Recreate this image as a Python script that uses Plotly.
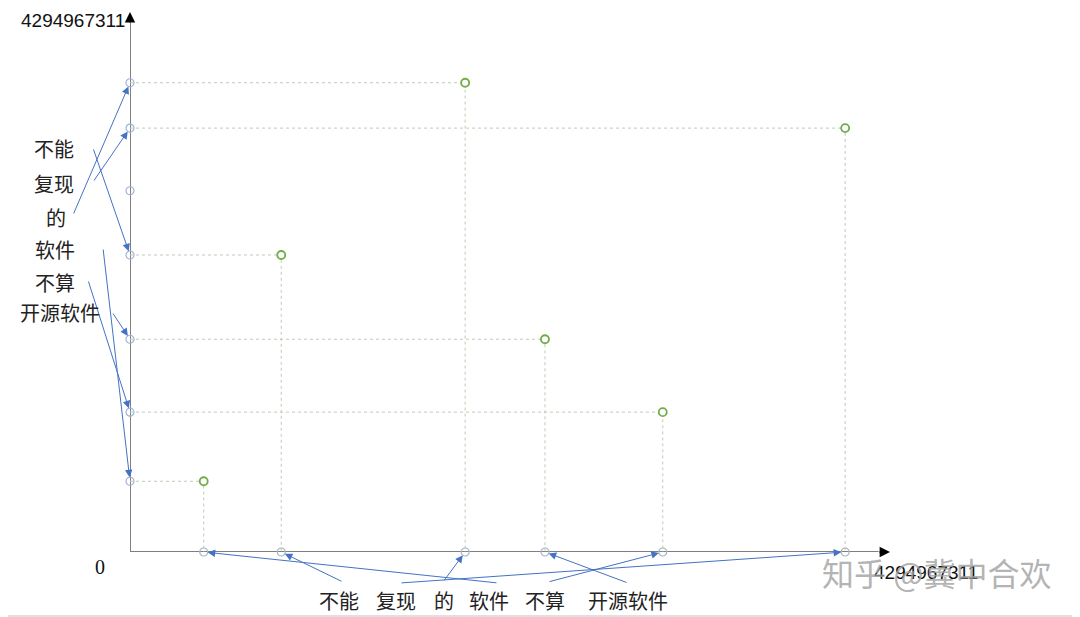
import plotly.graph_objects as go

# values are read as percent of the axis range (0 .. 4294967311)
X_PTS = [9.7, 19.9, 44.1, 54.6, 70.1, 94.1]
Y_PTS = [13.1, 55.0, 86.9, 39.4, 25.9, 78.5]
Y_EXTRA_TICK = [66.9]
AXIS_MIN_LABEL = '0'
AXIS_MAX_LABEL = '4294967311'
WORDS = ['不能', '复现', '的', '软件', '不算', '开源软件']
LEFT_ARROW_TO = [2, 5, 1, 3, 4, 0]      # index into Y_PTS
BOTTOM_ARROW_TO = [0, 1, 2, 3, 4, 5]    # index into X_PTS
WATERMARK = '知乎 @冀中合欢'

# plot area in screen pixels (page body adds an 8px margin)
L, R, T, B = 130, 890, 12, 552
PAGE_OFFSET = 8


def dx(p):
    return (p - L) / (R - L) * 100


def dy(p):
    return (B - p) / (B - T) * 100


def px(p):
    return (p - L) / (R - L)


def py(p):
    return (B - p) / (B - T)


CJK = 'Noto Sans CJK SC'
BLUE = '#4472C4'
GREEN = '#70AD47'
DASH = '#BFCDB2'

fig = go.Figure()

# dotted guide lines from each point to both axes
gx, gy = [], []
for x, y in zip(X_PTS, Y_PTS):
    gx += [0, x, x, None]
    gy += [y, y, 0, None]
fig.add_trace(go.Scatter(x=gx, y=gy, mode='lines', line=dict(color=DASH, width=1, dash='dot'),
                         hoverinfo='skip', cliponaxis=False))

# hollow ticks on the axes
fig.add_trace(go.Scatter(x=[0] * (len(Y_PTS) + len(Y_EXTRA_TICK)), y=Y_PTS + Y_EXTRA_TICK, mode='markers',
                         marker=dict(symbol='circle-open', size=8, color='#9FB3D8', line=dict(width=1.2)),
                         cliponaxis=False))
fig.add_trace(go.Scatter(x=X_PTS, y=[0] * len(X_PTS), mode='markers',
                         marker=dict(symbol='circle-open', size=8, color='#A9B4C4', line=dict(width=1.2)),
                         cliponaxis=False))

# the points themselves
fig.add_trace(go.Scatter(x=X_PTS, y=Y_PTS, mode='markers',
                         marker=dict(symbol='circle', size=8, color='white', line=dict(color=GREEN, width=1.8)),
                         cliponaxis=False))

annotations = []

# axis arrow heads
annotations.append(dict(x=100, y=0, xref='x', yref='y', ax=-12, ay=0, text='', showarrow=True,
                        arrowhead=2, arrowsize=1.3, arrowwidth=1.6, arrowcolor='black'))
annotations.append(dict(x=0, y=100, xref='x', yref='y', ax=0, ay=12, text='', showarrow=True,
                        arrowhead=2, arrowsize=1.3, arrowwidth=1.6, arrowcolor='black'))

# left side arrows: word column -> y ticks
left_tails = [(73, 215), (93, 182), (93, 148), (112, 312), (88, 280), (103, 248)]
for (tx, ty), i in zip(left_tails, LEFT_ARROW_TO):
    annotations.append(dict(x=0, y=Y_PTS[i], xref='x', yref='y', ax=dx(tx), ay=dy(ty), axref='x', ayref='y',
                            text='', showarrow=True, arrowhead=2, arrowsize=1.5, arrowwidth=1,
                            arrowcolor=BLUE, standoff=4))

# bottom arrows: word row -> x ticks
bottom_tails = [(498, 583), (343, 582), (443, 582), (628, 583), (548, 582), (400, 583)]
for (tx, ty), i in zip(bottom_tails, BOTTOM_ARROW_TO):
    annotations.append(dict(x=X_PTS[i], y=0, xref='x', yref='y', ax=dx(tx), ay=dy(ty), axref='x', ayref='y',
                            text='', showarrow=True, arrowhead=2, arrowsize=1.5, arrowwidth=1,
                            arrowcolor=BLUE, standoff=4))


def label(text, sx, sy, size, family, color='#222', xanchor='center'):
    return dict(x=px(sx), y=py(sy), xref='paper', yref='paper', text=text, showarrow=False,
                xanchor=xanchor, yanchor='middle', font=dict(family=family, size=size, color=color))


# word labels
left_pos = [(54, 149), (54, 183), (56, 217), (55, 249), (55, 282), (60, 313)]
for w, (sx, sy) in zip(WORDS, left_pos):
    annotations.append(label(w, sx, sy, 20, CJK))
bottom_pos = [(339, 600), (396, 600), (444, 600), (489, 600), (545, 600), (628, 600)]
for w, (sx, sy) in zip(WORDS, bottom_pos):
    annotations.append(label(w, sx, sy, 20, CJK))

# axis end labels
annotations.append(label(AXIS_MAX_LABEL, 127, 20, 19, 'Liberation Sans', '#111', xanchor='right'))
annotations.append(label(AXIS_MIN_LABEL, 100, 567, 20, 'Liberation Serif', '#111'))
annotations.append(label(AXIS_MAX_LABEL, 926, 572, 19, 'Liberation Sans', '#111'))
annotations.append(label(WATERMARK, 936, 572, 32, CJK, 'rgba(160,160,160,0.8)'))

fig.update_layout(
    width=1080,
    height=617,
    margin=dict(l=L - PAGE_OFFSET, r=1080 - R + PAGE_OFFSET, t=T - PAGE_OFFSET, b=617 - B + PAGE_OFFSET),
    paper_bgcolor='white',
    plot_bgcolor='white',
    showlegend=False,
    xaxis=dict(range=[0, 100], visible=False, fixedrange=True),
    yaxis=dict(range=[0, 100], visible=False, fixedrange=True),
    annotations=annotations,
    shapes=[
        dict(type='line', xref='x', yref='y', x0=0, y0=0, x1=98.5, y1=0, layer='below',
             line=dict(color='#7F7F7F', width=2)),
        dict(type='line', xref='x', yref='y', x0=0, y0=0, x1=0, y1=98, layer='below',
             line=dict(color='#7F7F7F', width=2)),
        dict(type='line', xref='paper', yref='paper', x0=px(0), x1=px(1080), y0=py(616), y1=py(616),
             line=dict(color='#E0E0E0', width=2)),
    ],
)

fig.write_html('out.html')
